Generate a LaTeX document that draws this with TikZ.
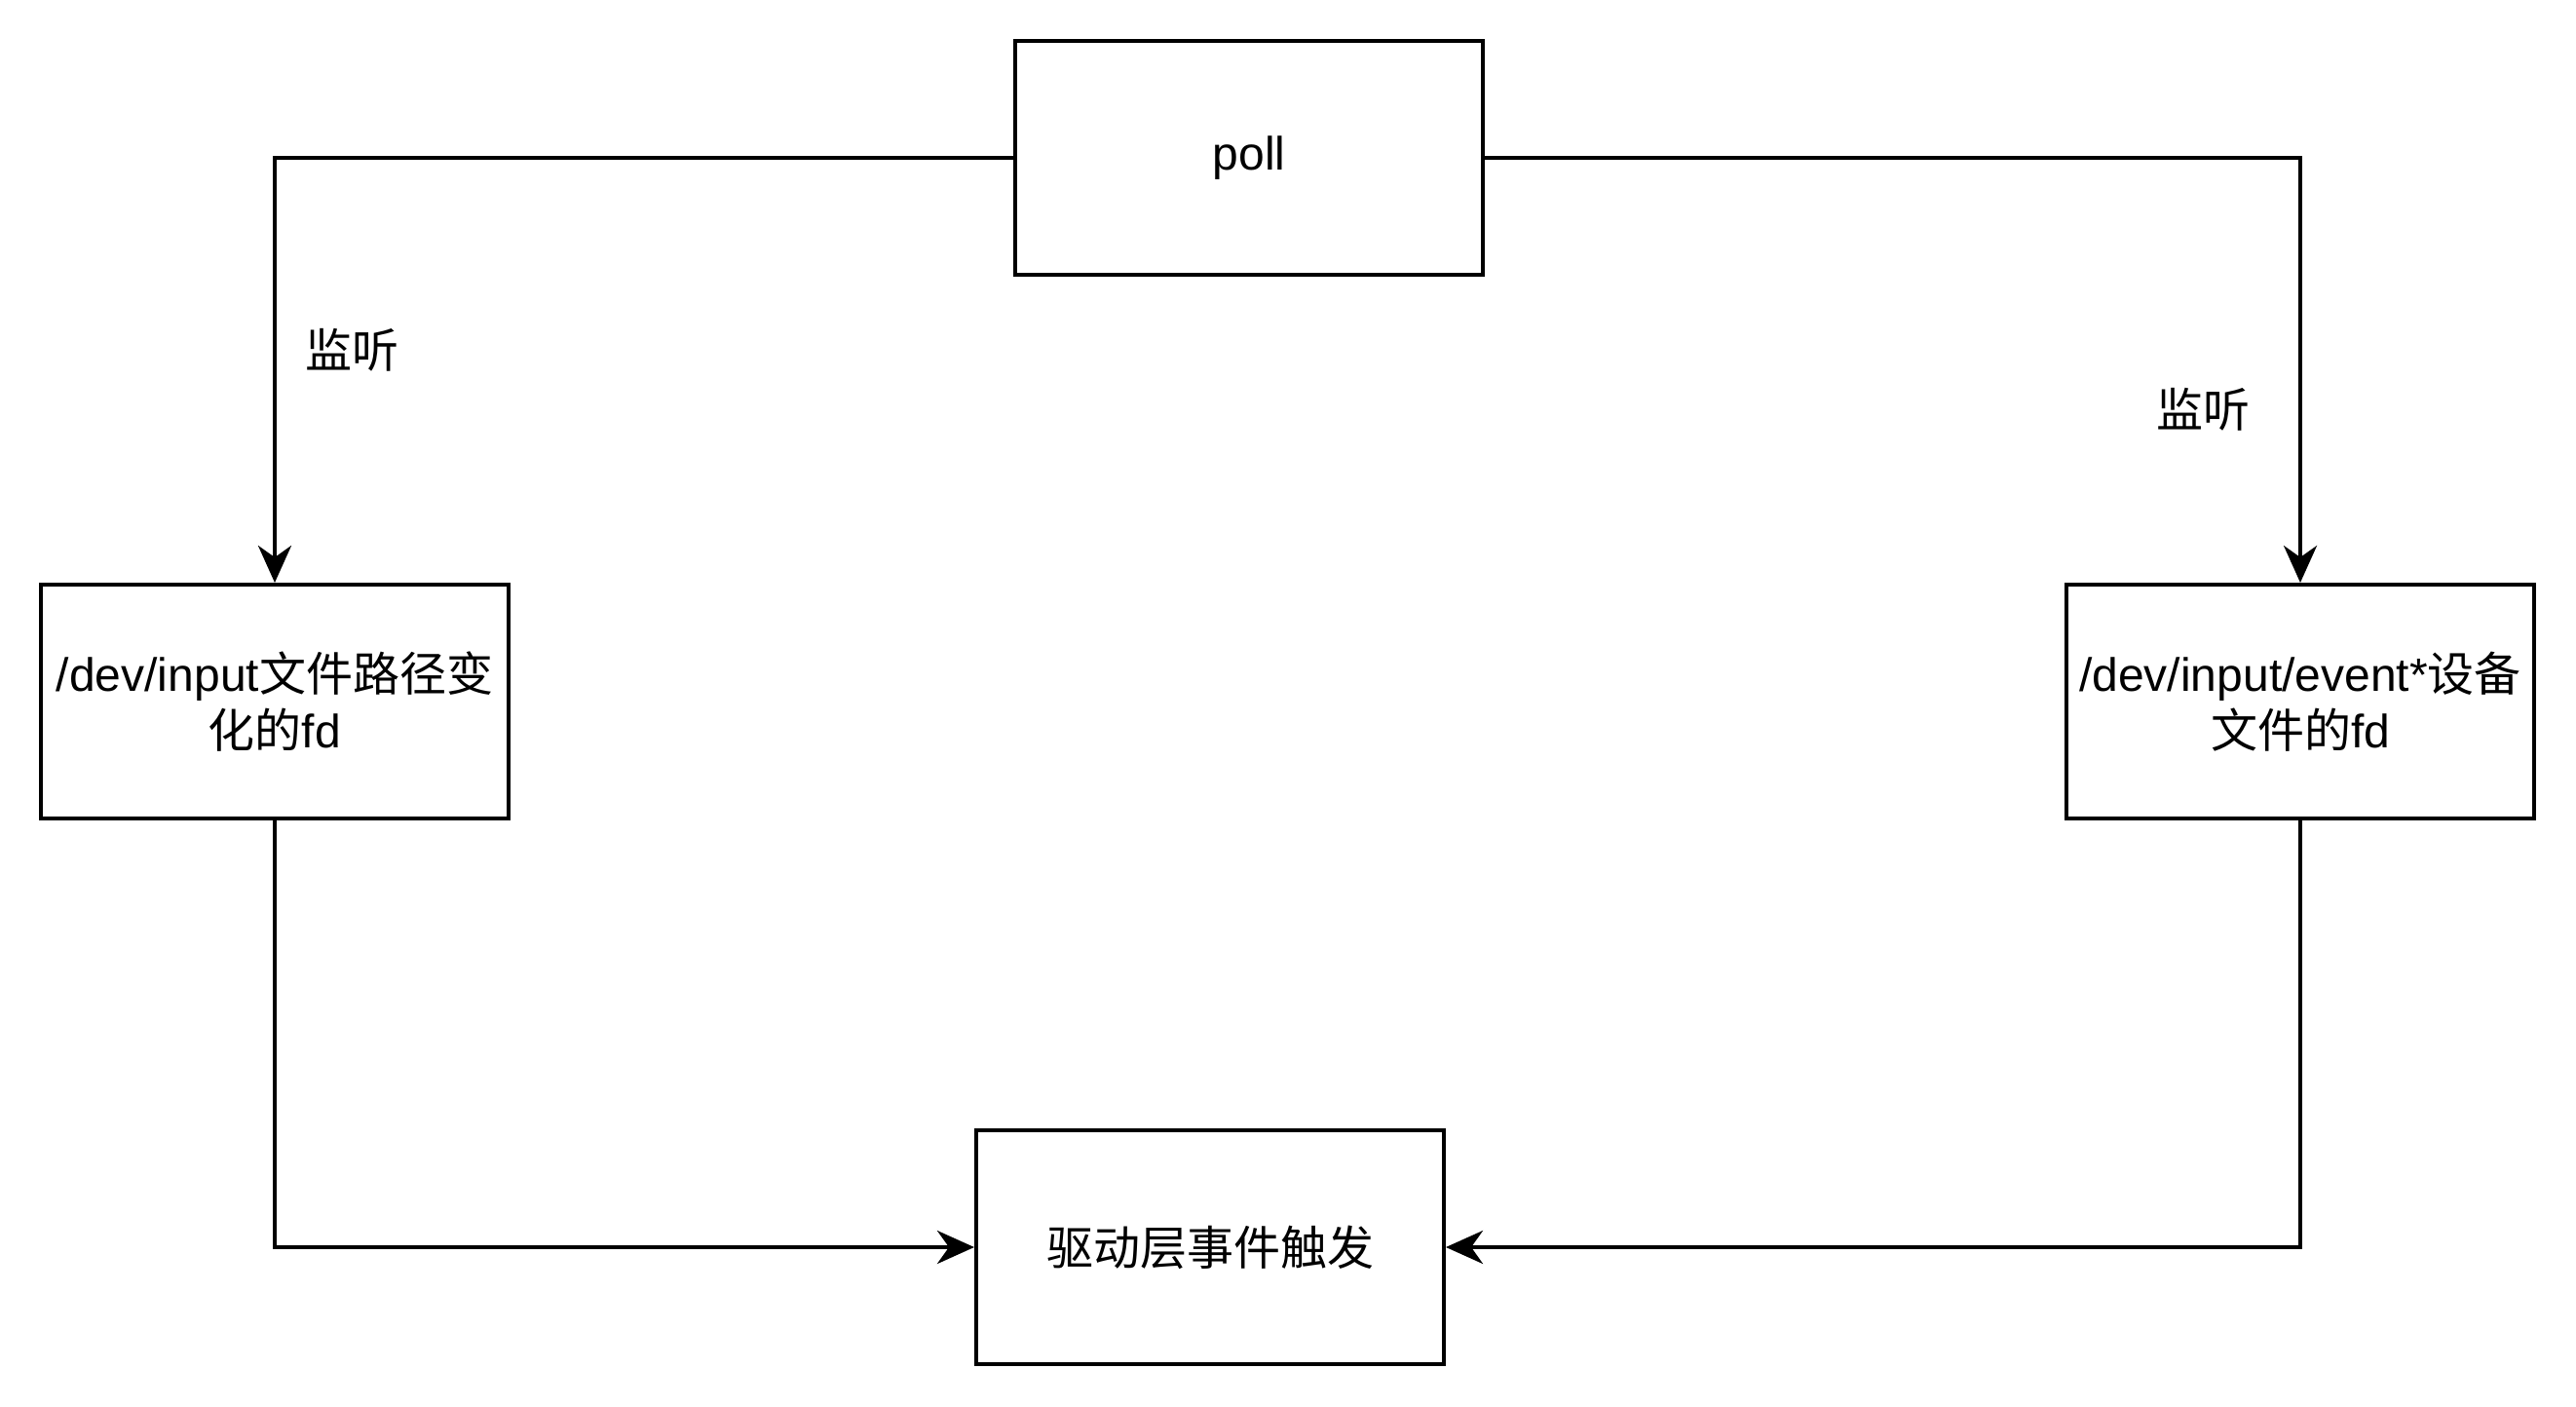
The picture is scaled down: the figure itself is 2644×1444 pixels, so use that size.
\documentclass[tikz,border=0pt]{standalone}
\usepackage{fontspec}
\setmainfont{Liberation Sans}
\newfontfamily\cjk{Noto Sans CJK SC}
\usetikzlibrary{arrows.meta}
\begin{document}
\begin{tikzpicture}[x=0.25pt,y=-0.25pt,
  box/.style={draw=black,line width=1pt,minimum width=120pt,minimum height=60pt,inner sep=0pt,align=center,font=\fontsize{12pt}{14.6pt}\selectfont},
  conn/.style={draw=black,line width=1pt,-{Stealth[length=9.5pt,width=8.5pt,inset=3pt]}},
  lbl/.style={font=\fontsize{12pt}{14.4pt}\selectfont\cjk,inner sep=0pt}]
\useasboundingbox[fill=white] (0,0) rectangle (2644,1444);
\node[box] (poll) at (1282,162) {poll};
\node[box] (lf) at (282,720) {/dev/input{\cjk 文件路径变}\\{\cjk 化的}fd};
\node[box] (rf) at (2361,720) {/dev/input/event*{\cjk 设备}\\{\cjk 文件的}fd};
\node[box] (drv) at (1242,1280) {\cjk 驱动层事件触发};
\draw[conn] (poll.west) -| (lf.north);
\draw[conn] (poll.east) -| (rf.north);
\draw[conn] (lf.south) |- (drv.west);
\draw[conn] (rf.south) |- (drv.east);
\node[lbl] (l1) at (361,359) {监听};
\node[lbl] (l2) at (2261,420) {监听};
\end{tikzpicture}
\end{document}
